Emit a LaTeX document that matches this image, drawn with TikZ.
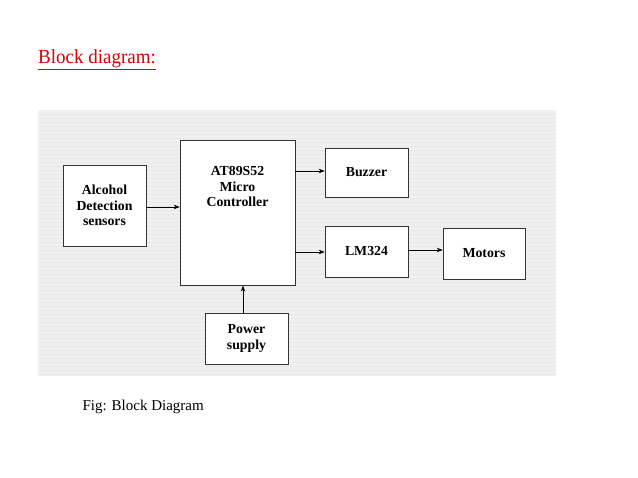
\documentclass[tikz,border=0pt]{standalone}
\usepackage{fontspec}
\setmainfont{Liberation Serif}
\usetikzlibrary{arrows.meta}
\begin{document}
\begin{tikzpicture}[x=1pt,y=-1pt,
  blk/.style={draw=black!80,fill=white,line width=0.6pt,align=center,font=\fontsize{13.8}{15.5}\selectfont\bfseries},
  arr/.style={-{Stealth[length=6pt,width=4.5pt]},line width=0.6pt}]
\useasboundingbox (0,0) rectangle (638,478);
\fill[white] (0,0) rectangle (638,478);
\node[anchor=west,text=red!85!black,font=\fontsize{20}{22}\selectfont,inner sep=1pt] (title) at (37,60) {\underline{\addfontfeature{FakeStretch=0.95}Block diagram:}};
\fill[black!6] (38,110) rectangle (556,376);
\foreach \yy in {114,118,...,374} \draw[black!9,line width=0.4pt] (38,\yy) -- (556,\yy);
\node[blk,minimum width=83pt,minimum height=81pt] (alc) at (104.5,205.5) {Alcohol\\Detection\\sensors};
\node[blk,minimum width=115pt,minimum height=145pt,anchor=north] (mc) at (237.5,140) {};
\node[blk,draw=none,fill=none,anchor=north] (mct) at (237.5,163) {AT89S52\\Micro\\Controller};
\node[blk,minimum width=83pt,minimum height=49pt] (bz) at (366.5,172.5) {Buzzer};
\node[blk,minimum width=83pt,minimum height=51pt] (lm) at (366.5,251.5) {LM324};
\node[blk,minimum width=82pt,minimum height=51pt] (mo) at (484,253.5) {Motors};
\node[blk,minimum width=83pt,minimum height=51pt] (ps) at (246.5,338.5) {Power\\supply};
\draw[arr] (alc.east |- 0,207) -- (mc.west |- 0,207);
\draw[arr] (mc.east |- 0,171) -- (bz.west |- 0,171);
\draw[arr] (mc.east |- 0,252) -- (lm.west |- 0,252);
\draw[arr] (lm.east |- 0,250) -- (mo.west |- 0,250);
\draw[arr] (ps.north -| 243,0) -- (mc.south -| 243,0);
\node[anchor=west,font=\fontsize{15}{17}\selectfont] (cap) at (79,407) {Fig: Block Diagram};
\end{tikzpicture}
\end{document}
